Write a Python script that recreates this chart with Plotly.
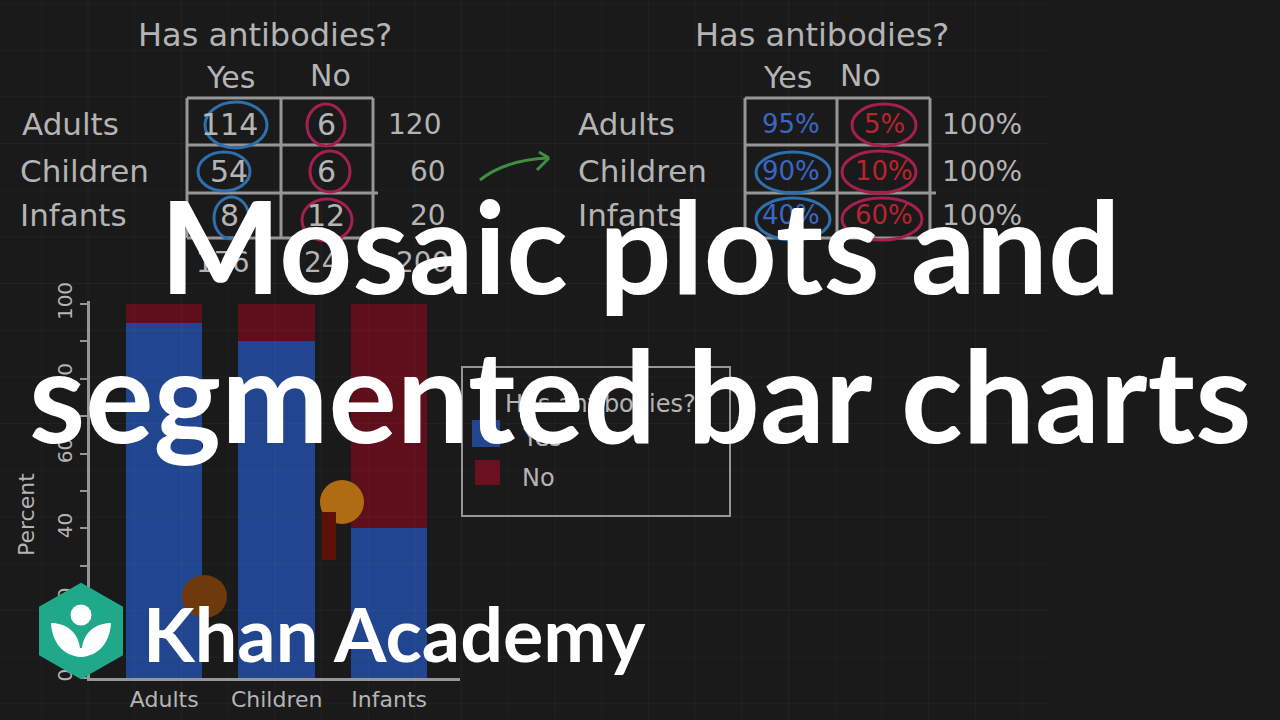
import plotly.graph_objects as go

# ---------------- data ----------------
groups = ["Adults", "Children", "Infants"]
yes_counts = [114, 54, 8]
no_counts = [6, 6, 12]
row_totals = [120, 60, 20]
col_totals = ["176", "24", "200"]
yes_pct = [95, 90, 40]
no_pct = [5, 10, 60]
row_pct_totals = ["100%", "100%", "100%"]
series_names = ["Yes", "No"]
y_tick_vals = [0, 20, 40, 60, 80, 100]
y_tick_text = ["0", "20", "40", "60", "80", "100"]
question = "Has antibodies?"
title_line1 = "Mosaic plots and"
title_line2 = "segmented bar charts"
brand = "Khan Academy"

# ---------------- style ----------------
BG = "#1a1a1a"
HAND = "#b4b4b4"
LINE = "#969696"
BLUE_BAR = "#21468f"
RED_BAR = "#5e0f1b"
BLUE_INK = "#2f6fae"
RED_INK = "#a51f4f"
BLUE_TXT = "#3d66c4"
RED_TXT = "#b8242f"
HAND_FONT = "DejaVu Sans"
W, H = 1280, 720

fig = go.Figure()
fig.add_trace(go.Bar(x=groups, y=yes_pct, name=series_names[0], marker_color=BLUE_BAR,
                     marker_line_width=0, width=0.68, showlegend=False))
fig.add_trace(go.Bar(x=groups, y=no_pct, name=series_names[1], marker_color=RED_BAR,
                     marker_line_width=0, width=0.68, showlegend=False))
# empty trace that anchors the full-canvas overlay axes used for decorations
fig.add_trace(go.Scatter(x=[], y=[], xaxis="x2", yaxis="y2", showlegend=False, hoverinfo="skip"))

shapes = []
ann = []


def T(x, y, text, size=30, color=HAND, xa="center", font=HAND_FONT, weight=None, angle=0):
    f = dict(family=font, size=size, color=color)
    if weight:
        f["weight"] = weight
    ann.append(dict(x=x, y=y, xref="x2", yref="y2", text=text, showarrow=False,
                    xanchor=xa, yanchor="middle", font=f, textangle=angle))


def L(x0, y0, x1, y1, color=LINE, w=3, layer="below"):
    shapes.append(dict(type="line", x0=x0, y0=y0, x1=x1, y1=y1, xref="x2", yref="y2",
                       line=dict(color=color, width=w), layer=layer))


def E(x0, y0, x1, y1, color, w=3):
    shapes.append(dict(type="circle", x0=x0, y0=y0, x1=x1, y1=y1, xref="x2", yref="y2",
                       line=dict(color=color, width=w), layer="below"))


# faint background grid of the drawing canvas
gx = 41.3
while gx < 1050:
    L(gx, 0, gx, 720, color="rgba(255,255,255,0.035)", w=1)
    gx += 46.7
gy = 3.3
while gy < 720:
    L(0, gy, 1048, gy, color="rgba(255,255,255,0.035)", w=1)
    gy += 46.7

row_y = [124, 171, 215]

# ---------------- left table ----------------
T(265, 35, question, 32)
T(230, 77, series_names[0], 30)
T(330, 75, series_names[1], 30)
for xv in [187, 281, 373]:
    L(xv, 98, xv, 238)
for yv in [98, 145, 193, 238]:
    L(187, yv, 373 if yv != 193 else 378, yv)
lx = [20, 18, 18]
for i, g in enumerate(groups):
    T(lx[i], row_y[i], g, 31, xa="left")
    T(229, row_y[i], str(yes_counts[i]), 30)
    T(326, row_y[i], str(no_counts[i]), 30)
    T(414 if i == 0 else 428, row_y[i], str(row_totals[i]), 28)
T(222, 262, col_totals[0], 28)
T(322, 262, col_totals[1], 28)
T(422, 262, col_totals[2], 28)
left_ell_yes = [(205, 102, 267, 148), (198, 152, 250, 191), (214, 197, 249, 239)]
left_ell_no = [(307, 104, 345, 146), (310, 151, 350, 192), (302, 199, 352, 241)]
for b in left_ell_yes:
    E(*b, BLUE_INK)
for b in left_ell_no:
    E(*b, RED_INK)

# ---------------- arrow ----------------
shapes.append(dict(type="path", path="M 480 180 Q 505 160 548 158", xref="x2", yref="y2",
                   line=dict(color="#3f8f3f", width=3), layer="below"))
L(539, 152, 549, 158, color="#3f8f3f")
L(549, 158, 537, 170, color="#3f8f3f")

# ---------------- right table ----------------
T(822, 35, question, 32)
T(787, 77, series_names[0], 30)
T(860, 75, series_names[1], 30)
for xv in [745, 837, 930]:
    L(xv, 98, xv, 238)
for yv in [98, 145, 193, 238]:
    L(745, yv, 930 if yv != 193 else 936, yv)
for i, g in enumerate(groups):
    T(576, row_y[i], g, 31, xa="left")
    T(791, row_y[i], f"{yes_pct[i]}%", 26, color=BLUE_TXT)
    T(884, row_y[i], f"{no_pct[i]}%", 26, color=RED_TXT)
    T(982, row_y[i], row_pct_totals[i], 28)
right_ell_yes = [None, (756, 152, 830, 193), (756, 198, 830, 240)]
right_ell_no = [(852, 104, 916, 146), (842, 151, 916, 193), (842, 198, 922, 240)]
for b in right_ell_yes:
    if b:
        E(*b, BLUE_INK)
for b in right_ell_no:
    E(*b, RED_INK)

# ---------------- legend box (manual) ----------------
shapes.append(dict(type="rect", x0=462, y0=367, x1=730, y1=516, xref="x2", yref="y2",
                   line=dict(color=LINE, width=2), layer="below"))
T(600, 404, question, 24)
shapes.append(dict(type="rect", x0=472, y0=420, x1=500, y1=447, xref="x2", yref="y2",
                   fillcolor=BLUE_BAR, line=dict(width=0), layer="below"))
shapes.append(dict(type="rect", x0=475, y0=460, x1=500, y1=485, xref="x2", yref="y2",
                   fillcolor="#6a1020", line=dict(width=0), layer="below"))
T(520, 438, series_names[0], 24, xa="left")
T(520, 478, series_names[1], 24, xa="left")

# ---------------- axis annotation ----------------
T(26, 515, "Percent", 22, angle=-90)

# ---------------- pen-cursor artefacts ----------------
shapes.append(dict(type="circle", x0=320, y0=480, x1=364, y1=524, xref="x2", yref="y2",
                   fillcolor="#b06c13", line=dict(width=0), layer="above"))
shapes.append(dict(type="rect", x0=322, y0=512, x1=336, y1=560, xref="x2", yref="y2",
                   fillcolor="#5a1208", line=dict(width=0), layer="above"))
shapes.append(dict(type="circle", x0=182, y0=575, x1=227, y1=618, xref="x2", yref="y2",
                   fillcolor="#6e3a0c", line=dict(width=0), layer="above"))

# ---------------- Khan Academy logo ----------------
shapes.append(dict(type="path",
                   path="M 81 585 L 121 608 L 121 654 L 81 677 L 41 654 L 41 608 Z",
                   xref="x2", yref="y2", fillcolor="#1fa88a",
                   line=dict(color="#1fa88a", width=4), layer="above"))
shapes.append(dict(type="circle", x0=70.5, y0=604.5, x1=91.5, y1=625.5, xref="x2", yref="y2",
                   fillcolor="white", line=dict(width=0), layer="above"))
shapes.append(dict(type="path",
                   path="M 51 623 C 66 623, 78 632, 80 648 L 82 648 C 84 632, 96 623, 111 623 "
                        "C 110 642, 99 656, 81 657 C 63 656, 52 642, 51 623 Z",
                   xref="x2", yref="y2", fillcolor="white", line=dict(width=0), layer="above"))
T(141, 632, brand, 75.5, color="white", xa="left", font="Lato", weight=700)

# ---------------- title ----------------
T(640, 244, title_line1, 128, color="white", font="Lato", weight=700)
T(640, 393, title_line2, 128, color="white", font="Lato", weight=700)

fig.update_layout(
    width=W, height=H, autosize=False,
    margin=dict(l=0, r=0, t=0, b=0, pad=0),
    paper_bgcolor=BG, plot_bgcolor="rgba(0,0,0,0)",
    barmode="stack", bargap=0.3,
    showlegend=False,
    shapes=shapes, annotations=ann,
    xaxis=dict(domain=[90 / W, 460 / W], range=[-0.66, 2.63], showline=True, linecolor=LINE,
               linewidth=3, showgrid=False, zeroline=False, ticks="", automargin=False,
               tickfont=dict(family=HAND_FONT, size=22, color=HAND)),
    yaxis=dict(domain=[42 / H, 419 / H], range=[0, 100.8], showline=True, linecolor=LINE,
               linewidth=3, showgrid=False, zeroline=False, ticks="outside", ticklen=7,
               tickwidth=2, tickcolor=LINE, tickvals=y_tick_vals, ticktext=y_tick_text,
               tickangle=-90, tickfont=dict(family=HAND_FONT, size=20, color=HAND),
               automargin=False,
               minor=dict(dtick=10, ticks="outside", ticklen=7, tickwidth=2, tickcolor=LINE)),
    xaxis2=dict(domain=[0, 1], range=[0, W], visible=False, anchor="y2", fixedrange=True,
                automargin=False),
    yaxis2=dict(domain=[0, 1], range=[H, 0], visible=False, anchor="x2", fixedrange=True,
                automargin=False),
)

fig.write_html("out.html", config={"displayModeBar": False},
               post_script="document.body.style.margin='0';")
